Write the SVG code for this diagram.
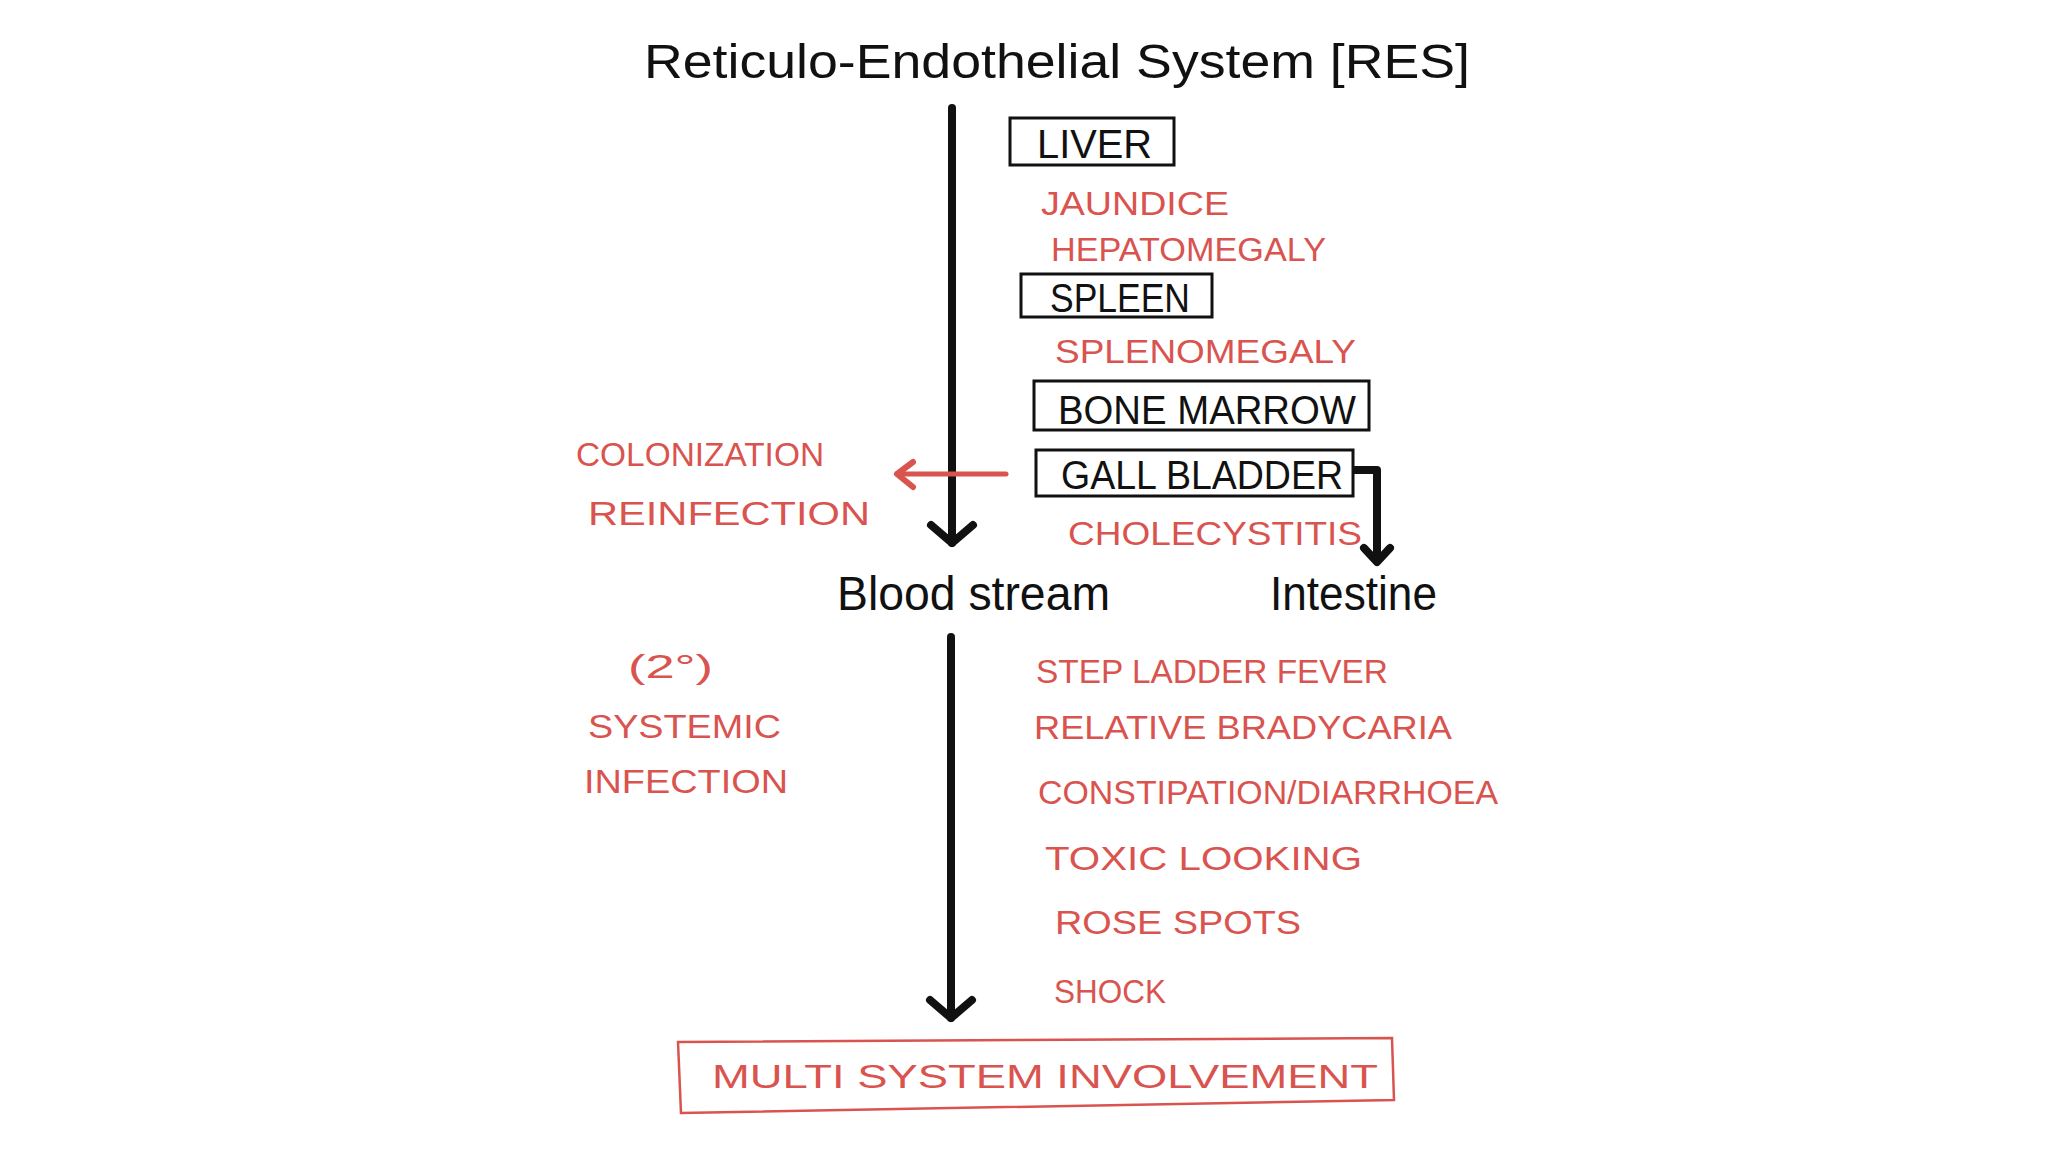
<svg xmlns="http://www.w3.org/2000/svg" width="2048" height="1152" viewBox="0 0 2048 1152">
  <defs>
    <style>
      .bk { font-family: "Liberation Sans", "DejaVu Sans", sans-serif; fill: #111; }
      .rd { font-family: "Liberation Sans", "DejaVu Sans", sans-serif; fill: #d9534f; font-size: 34px; }
      .box { fill: none; stroke: #111; stroke-width: 3; }
      .rbox { fill: none; stroke: #d9534f; stroke-width: 2.5; }
      .lbl { font-size: 40px; }
      .big { font-size: 48px; }
    </style>
    <marker id="chevB" markerUnits="userSpaceOnUse" markerWidth="60" markerHeight="60" viewBox="-30 -30 60 60" refX="0" refY="0" orient="auto">
      <path d="M-18,-21 L0,0 L-18,21" fill="none" stroke="#111" stroke-width="8" stroke-linecap="round" stroke-linejoin="round"/>
    </marker>
    <marker id="chevS" markerUnits="userSpaceOnUse" markerWidth="60" markerHeight="60" viewBox="-30 -30 60 60" refX="0" refY="0" orient="auto">
      <path d="M-14,-13 L0,0 L-14,13" fill="none" stroke="#111" stroke-width="8" stroke-linecap="round" stroke-linejoin="round"/>
    </marker>
    <marker id="chevR" markerUnits="userSpaceOnUse" markerWidth="60" markerHeight="60" viewBox="-30 -30 60 60" refX="0" refY="0" orient="auto">
      <path d="M-16,-13 L0,0 L-16,12" fill="none" stroke="#d9534f" stroke-width="6" stroke-linecap="round" stroke-linejoin="round"/>
    </marker>
  </defs>
  <rect width="2048" height="1152" fill="#ffffff"/>

  <g id="title">
    <text class="bk big" x="644" y="78" textLength="826" lengthAdjust="spacingAndGlyphs">Reticulo-Endothelial System [RES]</text>
  </g>

  <g id="connectors">
    <line x1="952" y1="108" x2="952" y2="543" stroke="#111" stroke-width="8" stroke-linecap="round" marker-end="url(#chevB)"/>
    <line x1="951" y1="637" x2="951" y2="1018" stroke="#111" stroke-width="8" stroke-linecap="round" marker-end="url(#chevB)"/>
    <polyline points="1353,470 1377,470 1377,562" fill="none" stroke="#111" stroke-width="8" stroke-linejoin="round" marker-end="url(#chevS)"/>
    <line x1="1006" y1="474" x2="897" y2="474" stroke="#d9534f" stroke-width="5" stroke-linecap="round" marker-end="url(#chevR)"/>
  </g>

  <g id="liver">
    <rect class="box" x="1010" y="118" width="164" height="47"/>
    <text class="bk lbl" x="1037" y="158" textLength="115" lengthAdjust="spacingAndGlyphs">LIVER</text>
  </g>
  <g id="jaundice"><text class="rd" x="1041" y="215" textLength="188" lengthAdjust="spacingAndGlyphs">JAUNDICE</text></g>
  <g id="hepatomegaly"><text class="rd" x="1051" y="261" textLength="275" lengthAdjust="spacingAndGlyphs">HEPATOMEGALY</text></g>

  <g id="spleen">
    <rect class="box" x="1021" y="274" width="191" height="43"/>
    <text class="bk lbl" x="1050" y="312" textLength="140" lengthAdjust="spacingAndGlyphs">SPLEEN</text>
  </g>
  <g id="splenomegaly"><text class="rd" x="1055" y="363" textLength="301" lengthAdjust="spacingAndGlyphs">SPLENOMEGALY</text></g>

  <g id="bone-marrow">
    <rect class="box" x="1034" y="381" width="335" height="49"/>
    <text class="bk lbl" x="1058" y="424" textLength="298" lengthAdjust="spacingAndGlyphs">BONE MARROW</text>
  </g>

  <g id="gall-bladder">
    <rect class="box" x="1036" y="450" width="317" height="46"/>
    <text class="bk lbl" x="1061" y="489" textLength="282" lengthAdjust="spacingAndGlyphs">GALL BLADDER</text>
  </g>
  <g id="cholecystitis"><text class="rd" x="1068" y="545" textLength="294" lengthAdjust="spacingAndGlyphs">CHOLECYSTITIS</text></g>

  <g id="colonization"><text class="rd" x="576" y="466" textLength="248" lengthAdjust="spacingAndGlyphs">COLONIZATION</text></g>
  <g id="reinfection"><text class="rd" x="588" y="525" textLength="282" lengthAdjust="spacingAndGlyphs">REINFECTION</text></g>

  <g id="blood-stream"><text class="bk big" x="837" y="610" textLength="273" lengthAdjust="spacingAndGlyphs">Blood stream</text></g>
  <g id="intestine"><text class="bk big" x="1270" y="610" textLength="167" lengthAdjust="spacingAndGlyphs">Intestine</text></g>

  <g id="secondary">
    <text class="rd" x="628" y="678" textLength="85" lengthAdjust="spacingAndGlyphs">(2°)</text>
    <text class="rd" x="588" y="738" textLength="193" lengthAdjust="spacingAndGlyphs">SYSTEMIC</text>
    <text class="rd" x="584" y="793" textLength="204" lengthAdjust="spacingAndGlyphs">INFECTION</text>
  </g>

  <g id="features">
    <text class="rd" x="1036" y="683" textLength="352" lengthAdjust="spacingAndGlyphs">STEP LADDER FEVER</text>
    <text class="rd" x="1034" y="739" textLength="418" lengthAdjust="spacingAndGlyphs">RELATIVE BRADYCARIA</text>
    <text class="rd" x="1038" y="804" textLength="460" lengthAdjust="spacingAndGlyphs">CONSTIPATION/DIARRHOEA</text>
    <text class="rd" x="1045" y="870" textLength="317" lengthAdjust="spacingAndGlyphs">TOXIC LOOKING</text>
    <text class="rd" x="1055" y="934" textLength="246" lengthAdjust="spacingAndGlyphs">ROSE SPOTS</text>
    <text class="rd" x="1054" y="1003" textLength="112" lengthAdjust="spacingAndGlyphs">SHOCK</text>
  </g>

  <g id="multi-system">
    <polygon class="rbox" points="678,1042 1392,1038 1394,1100 681,1113"/>
    <text class="rd" x="712" y="1088" textLength="666" lengthAdjust="spacingAndGlyphs">MULTI SYSTEM  INVOLVEMENT</text>
  </g>
</svg>
